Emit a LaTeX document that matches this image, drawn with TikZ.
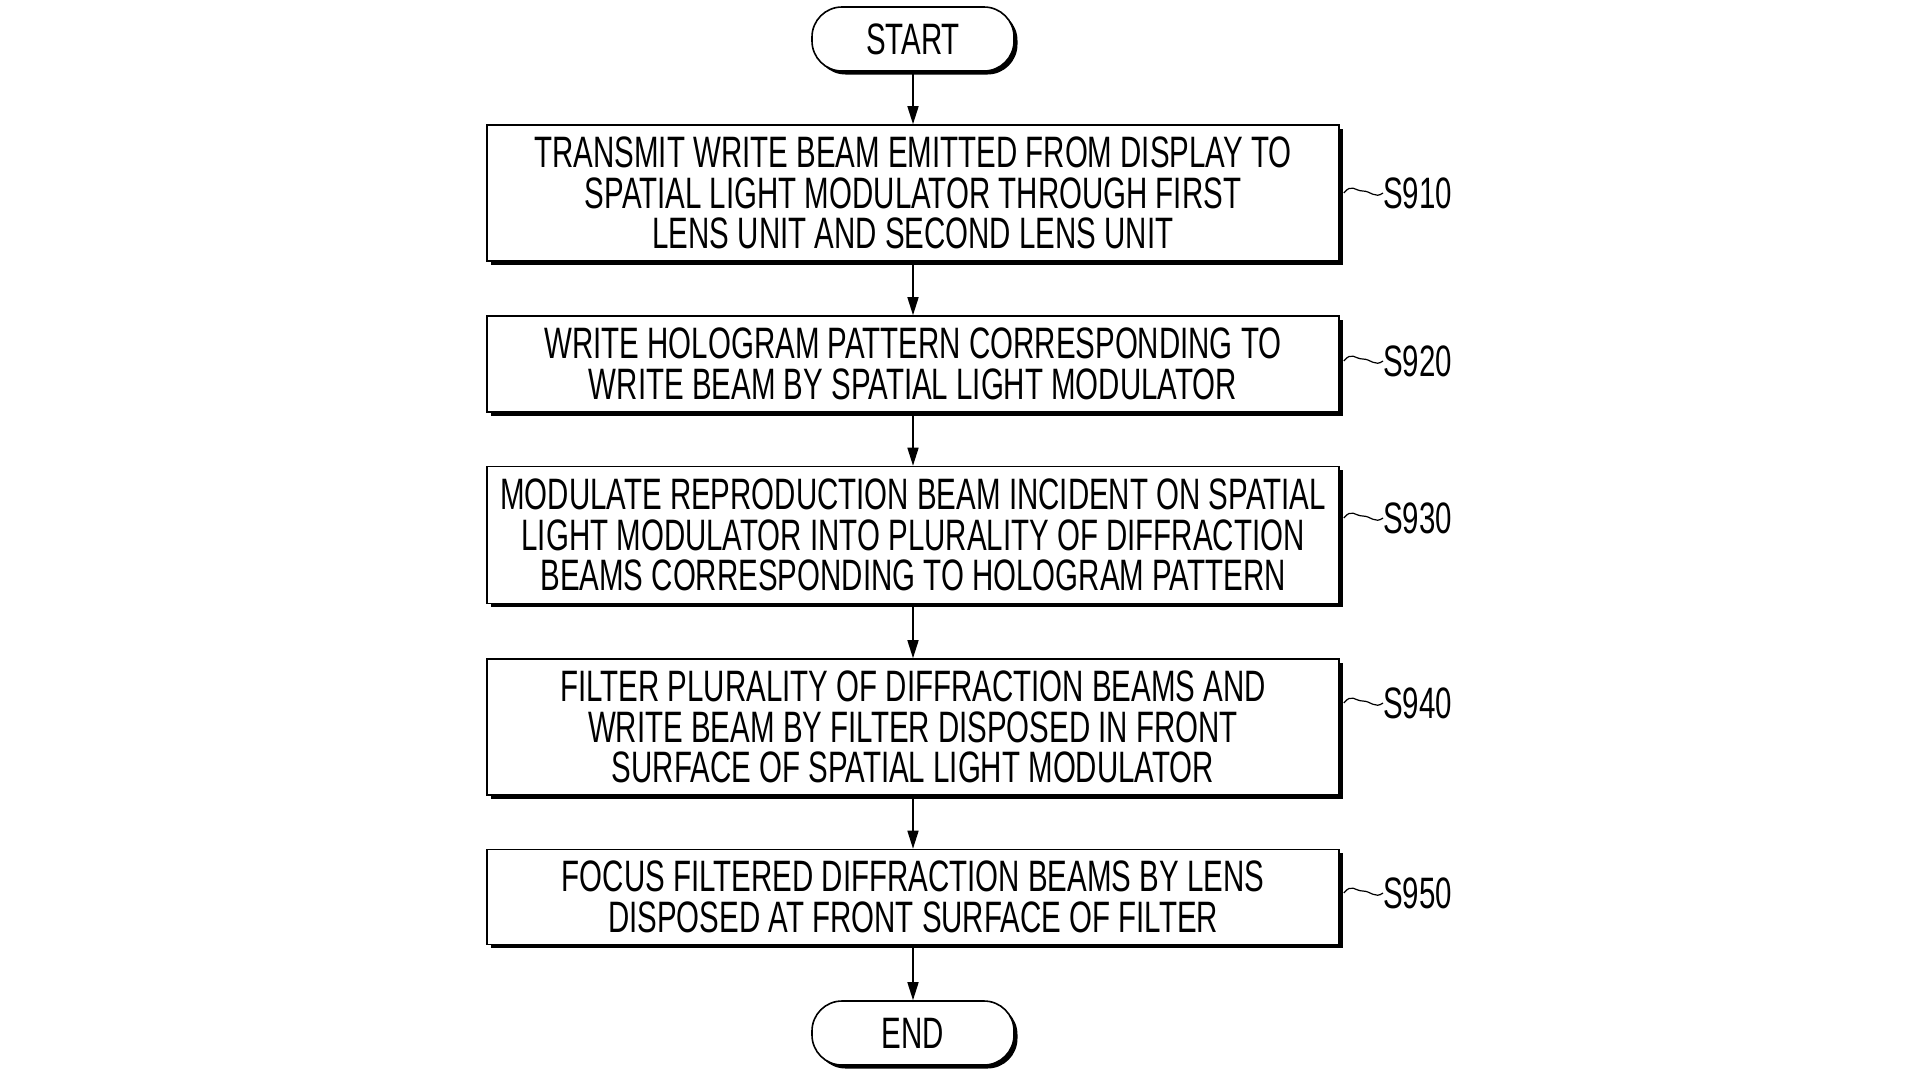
\documentclass[tikz,border=0pt]{standalone}
\usepackage{fontspec}
\setmainfont{Liberation Sans}[FakeStretch=0.67]
\usetikzlibrary{arrows.meta,shadows}
\begin{document}
\begin{tikzpicture}[x=1pt,y=-1pt,
  box/.style={draw,line width=1.6pt,fill=white,minimum width=852pt,align=center,inner sep=0pt,
     font=\fontsize{44}{40.5}\selectfont, drop shadow={shadow xshift=3.5pt,shadow yshift=-3.5pt,fill=black,opacity=1}},
  term/.style={box,rounded corners=30pt,minimum width=202pt,minimum height=64pt},
  arr/.style={-{Triangle[length=18pt,width=11pt]},line width=1.6pt},
  lab/.style={font=\fontsize{44}{40}\selectfont,anchor=west,inner sep=0pt}]
\useasboundingbox (0,0) rectangle (1920,1080);
\begin{scope}[shift={(-5,-3)}]
\node[term] (s) at (918,42) {START};
\node[box,minimum height=136pt] (b1) at (918,196) {TRANSMIT WRITE BEAM EMITTED FROM DISPLAY TO\\SPATIAL LIGHT MODULATOR THROUGH FIRST\\LENS UNIT AND SECOND LENS UNIT};
\node[box,minimum height=96pt] (b2) at (918,367) {WRITE HOLOGRAM PATTERN CORRESPONDING TO\\WRITE BEAM BY SPATIAL LIGHT MODULATOR};
\node[box,minimum height=137pt] (b3) at (918,538) {MODULATE REPRODUCTION BEAM INCIDENT ON SPATIAL\\LIGHT MODULATOR INTO PLURALITY OF DIFFRACTION\\BEAMS CORRESPONDING TO HOLOGRAM PATTERN};
\node[box,minimum height=136pt] (b4) at (918,730) {FILTER PLURALITY OF DIFFRACTION BEAMS AND\\WRITE BEAM BY FILTER DISPOSED IN FRONT\\SURFACE OF SPATIAL LIGHT MODULATOR};
\node[box,minimum height=95pt] (b5) at (918,900) {FOCUS FILTERED DIFFRACTION BEAMS BY LENS\\DISPOSED AT FRONT SURFACE OF FILTER};
\node[term] (e) at (918,1036) {END};
\foreach \a/\b in {s/b1,b1/b2,b2/b3,b3/b4,b4/b5,b5/e} \draw[arr] (\a) -- (\b);
\foreach \n/\t/\y in {b1/S910/196,b2/S920/364,b3/S930/521,b4/S940/706,b5/S950/896}{
  \node[lab] (l\n) at (1388,\y) {\t};
  \draw[line width=1.2pt] ([xshift=4pt]\n.east |- 0,\y) .. controls +(8,-10) and +(-8,0) .. +(19,-2) .. controls +(8,0) and +(-8,6) .. (l\n.west);
}
\end{scope}
\end{tikzpicture}
\end{document}
